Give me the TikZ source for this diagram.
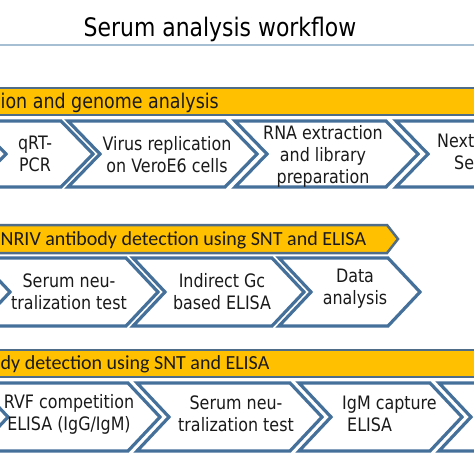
\documentclass[tikz,border=0pt]{standalone}
\usepackage{fontspec}
\setmainfont{DejaVu Sans}[FakeStretch=0.86]
\newfontfamily\calfont{Carlito}
\definecolor{chevblue}{HTML}{44709A}
\definecolor{bannborder}{HTML}{4F6D88}
\definecolor{bannyellow}{HTML}{FFC000}
\definecolor{titleline}{HTML}{A6BFD3}
\definecolor{txtcol}{HTML}{1A1A1A}
\newcommand\mychevron[6]{% name, L, R, top, mid, bot
  \draw[chev] (#2,#4) -- (#3,#4) -- ({#3+32},#5) -- (#3,#6) -- (#2,#6) -- ({#2+32},#5) -- cycle;
  \coordinate (#1) at ({(#2+32+#3)/2},#5);
}
\begin{document}
\begin{tikzpicture}[x=1pt,y=-1pt,
  chev/.style={draw=chevblue, line width=3.2pt, fill=white},
  bann/.style={draw=bannborder, line width=2.5pt, fill=bannyellow},
  boxtxt/.style={font=\fontsize{18.5}{22}\selectfont, text=txtcol, align=center, inner sep=0pt},
  banntxt/.style={font=\calfont\fontsize{20}{24}\selectfont, text=txtcol, anchor=base west, inner sep=0pt},
]
\useasboundingbox (0,0) rectangle (474,474);
\clip (0,0) rectangle (474,474);
\fill[white] (0,0) rectangle (474,474);

% title
\node[font=\fontsize{25.5}{30}\selectfont, text=black, anchor=base, inner sep=0pt] (title) at (220,36) {Serum analysis workflow};
\coordinate (tl1) at (-5,45);
\coordinate (tl2) at (480,45);
\draw[titleline, line width=2pt] (tl1) -- (tl2);

% row 1
\draw[bann] (-10,88) rectangle (484,115);
\node[banntxt, font=\fontsize{20.3}{24}\selectfont] (b1) at (0.5,108) {ion and genome analysis};
\mychevron{c11}{-26}{61}{121}{154}{187}
\mychevron{c12}{68}{225}{121}{154}{187}
\mychevron{c13}{235}{386}{121}{154}{187}
\mychevron{c14}{396}{600}{121}{154}{187}
\node[boxtxt] (t11) at (35,154) {qRT-\\PCR};
\node[boxtxt] (t12) at (167,155) {Virus replication\\on VeroE6 cells};
\node[boxtxt] (t13) at (323,156) {RNA extraction\\and library\\preparation};
\node[boxtxt, anchor=base west] (t14a) at (437,147) {Next};
\node[boxtxt, anchor=base west] (t14b) at (454,169) {Se};

% row 2
\draw[bann] (-10,225) -- (387,225) -- (398,239) -- (387,253) -- (-10,253) -- cycle;
\node[banntxt] (b2) at (0.5,245) {NRIV antibody detection using SNT and ELISA};
\mychevron{c21}{-22}{126}{258}{292}{326}
\mychevron{c22}{133}{272}{258}{292}{326}
\mychevron{c23}{279}{388}{258}{292}{326}
\node[boxtxt] (t21) at (69,292) {Serum neu-\\tralization test};
\node[boxtxt] (t22) at (222,292) {Indirect Gc\\based ELISA};
\node[boxtxt] (t23) at (355,289) {Data\\analysis};

% row 3
\draw[bann] (-10,350) rectangle (484,377);
\node[banntxt] (b3) at (0.5,369) {dy detection using SNT and ELISA};
\mychevron{c31}{-24}{128}{383}{417}{451}
\mychevron{c32}{137}{290}{383}{417}{451}
\mychevron{c33}{299}{430}{383}{417}{451}
\mychevron{c34}{439}{600}{383}{417}{451}
\node[boxtxt] (t31) at (69,414) {RVF competition\\ELISA (IgG/IgM)};
\node[boxtxt] (t32) at (236,414) {Serum neu-\\tralization test};
\node[boxtxt, align=left, anchor=west] (t33) at (342,414) {IgM capture\\\hspace{5pt}ELISA};
\end{tikzpicture}
\end{document}
